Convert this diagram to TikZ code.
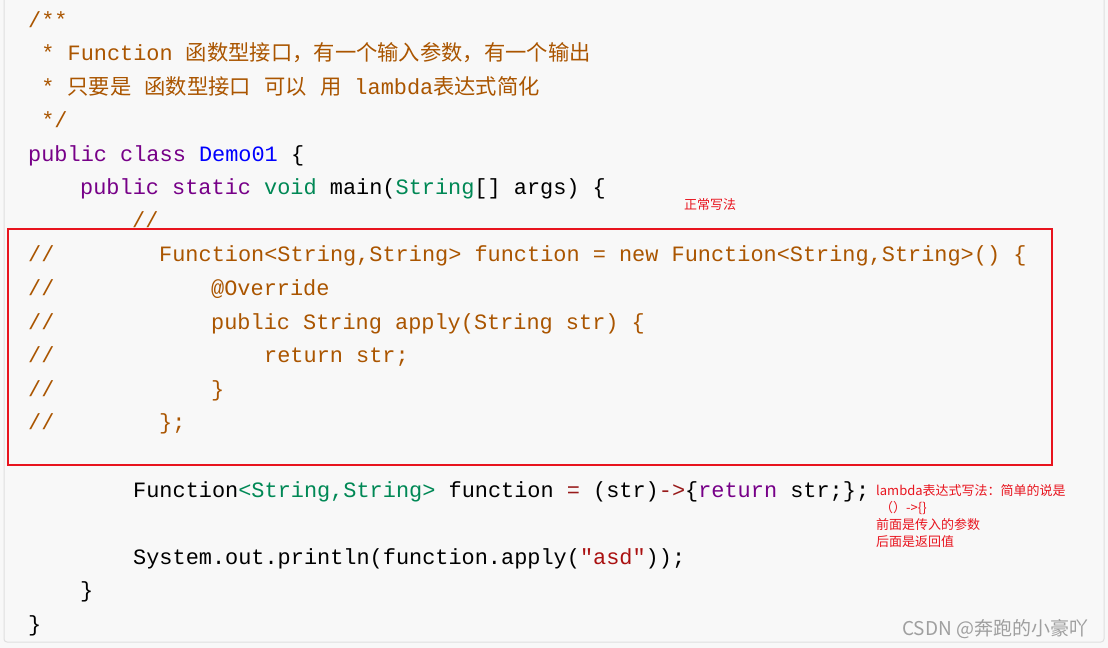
\documentclass[tikz,border=0pt]{standalone}
\usepackage{fontspec}
\usepackage{xcolor}
\setmonofont{Liberation Mono}
\newfontfamily\cjk{Noto Sans CJK SC}
\definecolor{cmt}{HTML}{AA5500}
\definecolor{kw}{HTML}{770088}
\definecolor{df}{HTML}{0000FF}
\definecolor{ty}{HTML}{008855}
\definecolor{op}{HTML}{981A1A}
\definecolor{st}{HTML}{AA1111}
\definecolor{bg}{HTML}{F8F8F8}
\definecolor{ann}{HTML}{E8141E}
\newcommand{\C}[1]{{\cjk\fontsize{21.3bp}{24bp}\selectfont #1}}
\begin{document}
\begin{tikzpicture}[x=1bp,y=-1bp,
  code/.style={anchor=west,inner sep=0pt,text height=16bp,text depth=5bp,font=\ttfamily\fontsize{21.9bp}{26bp}\selectfont},
  note/.style={anchor=west,inner sep=0pt,text=ann,font=\cjk\fontsize{13bp}{15bp}\selectfont}]
\useasboundingbox (0,0) rectangle (1108,648);
\fill[bg] (0,0) rectangle (1108,648);
\draw[gray!25,line width=1bp,rounded corners=3bp] (4,-5) rectangle (1104,642);
% header comment
\node[code,text=cmt] (l1) at (28,22) {/**};
\node[code,text=cmt] (l2) at (28,55) {\ * Function \C{函数型接口，有一个输入参数，有一个输出}};
\node[code,text=cmt] (l3) at (28,89) {\ * \C{只要是} \C{函数型接口} \C{可以} \C{用} lambda\C{表达式简化}};
\node[code,text=cmt] (l4) at (28,122) {\ */};
\node[code] (l5) at (28,156) {\textcolor{kw}{public} \textcolor{kw}{class} \textcolor{df}{Demo01} \{};
\node[code] (l6) at (80,189) {\textcolor{kw}{public} \textcolor{kw}{static} \textcolor{ty}{void} main(\textcolor{ty}{String}[] args) \{};
\node[code,text=cmt] (l7) at (132,222) {//};
% commented block
\foreach \yy/\xx/\tx [count=\i] in {
  256/159/{Function<String,String> function = new Function<String,String>() \{},
  290/211/{@Override},
  324/211/{public String apply(String str) \{},
  357/264/{return str;},
  391/211/{\}},
  424/159/{\};}}{
  \node[code,text=cmt] (c\i a) at (28,\yy) {//};
  \node[code,text=cmt] (c\i b) at (\xx,\yy) {\tx};
}
\draw[ann,line width=2.5bp] (8,229) rectangle (1052,465);
\node[code] (l14) at (133,492) {Function\textcolor{ty}{<String,String>} function \textcolor{op}{=} (str)\textcolor{op}{->}\{\textcolor{kw}{return} str;\};};
\node[code] (l16) at (133,559) {System.out.println(function.apply(\textcolor{st}{"asd"}));};
\node[code] (l17) at (80,592) {\}};
\node[code] (l18) at (28,626) {\}};
% annotations
\node[note] (n0) at (684,205) {正常写法};
\node[note] (n1) at (876,491) {lambda表达式写法：简单的说是};
\node[note] (n2) at (880,508) {（）->\{\}};
\node[note] (n3) at (876,525) {前面是传入的参数};
\node[note] (n4) at (876,542) {后面是返回值};
\node[anchor=west,inner sep=0pt,text=gray!75,font=\cjk\fontsize{19bp}{21bp}\selectfont] (wm) at (902,629) {CSDN @奔跑的小豪吖};
\end{tikzpicture}
\end{document}
